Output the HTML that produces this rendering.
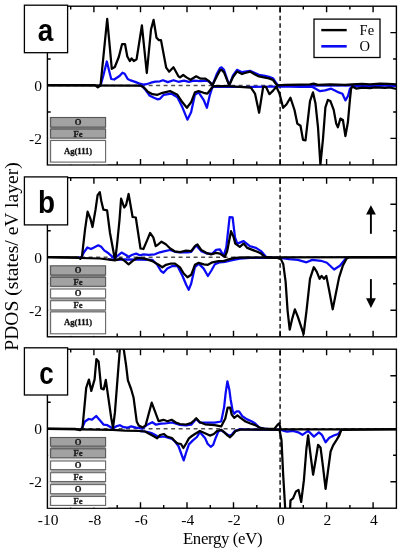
<!DOCTYPE html>
<html><head><meta charset="utf-8"><title>PDOS</title>
<style>
html,body{margin:0;padding:0;background:#fff;width:401px;height:550px;overflow:hidden}
svg{display:block}
.t{font-family:"Liberation Serif",serif;fill:#000}
.lb{font-family:"Liberation Serif",serif;font-weight:bold;fill:#141414;stroke:#141414;stroke-width:0.3;font-size:8.6px}
.pl{font-family:"Liberation Sans","DejaVu Sans",sans-serif;font-weight:bold;fill:#000}
</style></head><body>
<svg width="401" height="550" viewBox="0 0 401 550">
<rect width="401" height="550" fill="#fff"/>

<defs><clipPath id="ca"><rect x="47.4" y="6.2" width="349.0" height="158.70000000000002"/></clipPath></defs>
<g clip-path="url(#ca)">
<line x1="47.4" y1="85.5" x2="396.4" y2="85.5" stroke="#505050" stroke-width="1.5" stroke-dasharray="4,3.5" stroke-dashoffset="3.8"/>
<line x1="280.1" y1="6.2" x2="280.1" y2="164.9" stroke="#000" stroke-width="1.35" stroke-dasharray="4.5,3.1" stroke-dashoffset="5.7"/>
<polyline fill="none" stroke="#0a0af5" stroke-width="2.25" stroke-linejoin="round" points="99.0,85.4 100.6,85.4 103.5,75.0 106.8,61.5 111.2,79.0 114.2,79.5 119.5,76.0 122.5,72.7 124.7,73.7 127.7,79.0 130.7,80.4 134.4,81.6 138.9,83.4 143.4,84.6 146.4,84.2 150.9,82.7 155.4,81.6 160.0,81.3 163.0,80.2 167.8,82.1 173.5,80.2 178.4,81.8 184.0,80.6 188.9,81.8 193.8,80.6 200.2,81.2 206.7,80.6 210.0,82.3 212.4,85.3 217.0,73.5 220.0,68.0 221.5,67.4 224.0,69.8 229.2,85.3 233.0,75.4 237.0,69.8 242.0,72.2 245.0,71.6 250.0,70.8 255.0,73.0 259.0,74.8 265.0,75.8 269.0,76.8 273.0,78.2 276.0,82.8 278.2,85.6 396.3,85.4"/>
<polyline fill="none" stroke="#0a0af5" stroke-width="2.25" stroke-linejoin="round" points="138.0,85.5 141.5,85.6 146.0,90.5 149.4,95.4 153.9,97.7 157.5,99.3 160.0,98.8 163.7,94.8 171.2,93.6 177.4,97.3 182.4,107.3 187.4,119.7 191.1,112.3 194.9,94.8 198.6,92.3 203.6,99.8 206.9,107.8 209.9,94.8 212.3,87.3 214.8,86.6 240.0,87.0 280.0,86.5 300.0,86.9 312.5,86.9 320.0,91.2 325.0,90.4 331.2,88.7 334.9,90.4 338.7,92.4 342.4,93.7 345.4,100.4 347.9,96.2 349.9,88.7 352.4,86.2 357.4,86.0 370.0,86.2 380.0,85.8 384.8,85.0 388.0,86.0 396.4,86.2"/>
<polyline fill="none" stroke="#000" stroke-width="2.25" stroke-linejoin="round" points="47.3,85.2 95.0,85.2 97.8,87.4 100.5,85.5 107.2,18.8 111.8,68.8 114.8,67.0 118.8,57.0 122.1,44.0 125.0,44.0 127.3,56.5 129.8,61.0 131.6,58.5 133.8,61.0 136.6,59.2 141.9,25.3 146.8,73.0 151.0,29.5 153.6,19.9 156.5,37.7 158.9,40.1 161.0,40.1 166.2,67.7 169.1,71.7 173.5,67.2 178.4,76.3 180.0,77.4 183.2,75.0 186.5,77.4 190.5,79.8 196.2,76.3 200.2,78.5 205.1,78.5 208.3,80.6 212.4,85.3 217.0,76.0 220.0,70.5 221.5,69.8 224.0,72.4 229.2,85.3 233.0,77.0 237.0,71.6 242.0,74.0 245.0,73.0 250.0,71.6 255.0,74.4 259.0,76.4 265.0,77.6 269.0,78.4 273.0,80.0 276.0,84.0 277.5,85.4 285.0,84.8 300.0,84.6 310.0,84.4 313.5,83.6 318.0,84.9 330.0,84.3 345.0,84.9 352.0,84.3 362.0,83.8 370.0,84.3 380.0,83.6 388.0,83.9 396.4,84.3"/>
<polyline fill="none" stroke="#000" stroke-width="2.25" stroke-linejoin="round" points="47.3,85.4 140.4,85.6 144.0,87.5 147.9,91.7 152.4,94.2 157.5,94.8 162.5,92.8 170.0,91.1 177.4,94.8 182.4,102.3 186.9,107.8 191.1,102.3 194.9,92.3 198.6,91.1 203.6,92.8 207.4,93.6 211.1,88.6 213.6,86.0 225.0,86.0 240.0,86.8 250.9,87.6 255.0,93.6 259.1,112.7 263.2,86.8 265.9,86.8 269.5,94.2 273.3,90.4 276.3,86.8 279.5,93.6 283.1,107.8 286.4,104.5 290.4,97.7 294.5,110.0 297.3,123.6 300.5,125.8 303.0,139.8 305.5,140.3 310.0,101.1 313.0,92.4 315.5,103.6 318.0,127.3 320.4,164.7 322.9,139.8 325.4,107.4 327.9,99.9 330.4,101.1 333.7,109.9 336.2,123.6 337.9,127.3 340.4,118.6 342.9,119.9 345.4,136.1 347.9,122.3 349.9,99.9 351.1,88.7 352.4,86.5 356.1,88.6 362.3,87.6 370.0,88.2 375.0,87.3 385.0,87.8 390.0,87.5 396.4,89.0"/>
</g>
<rect x="47.4" y="6.2" width="349.0" height="158.7" fill="none" stroke="#000" stroke-width="1.4"/>
<path d="M70.7,164.9v-3.3M70.7,6.2v3.3M93.9,164.9v-6M93.9,6.2v6M117.2,164.9v-3.3M117.2,6.2v3.3M140.5,164.9v-6M140.5,6.2v6M163.7,164.9v-3.3M163.7,6.2v3.3M187.0,164.9v-6M187.0,6.2v6M210.3,164.9v-3.3M210.3,6.2v3.3M233.5,164.9v-6M233.5,6.2v6M256.8,164.9v-3.3M256.8,6.2v3.3M280.1,164.9v-6M280.1,6.2v6M303.3,164.9v-3.3M303.3,6.2v3.3M326.6,164.9v-6M326.6,6.2v6M349.9,164.9v-3.3M349.9,6.2v3.3M373.1,164.9v-6M373.1,6.2v6M47.4,138.4h6M396.4,138.4h-6M47.4,112.0h3.3M396.4,112.0h-3.3M47.4,59.0h3.3M396.4,59.0h-3.3M47.4,32.6h6M396.4,32.6h-6" stroke="#000" stroke-width="1.4" fill="none"/>
<text class="t" x="41.9" y="90.8" font-size="15.5" text-anchor="end">0</text>
<text class="t" x="41.9" y="143.7" font-size="15.5" text-anchor="end">-2</text>
<rect x="24.4" y="5.2" width="43.2" height="47.5" fill="#fff" stroke="#000" stroke-width="1.3"/>
<text class="pl" transform="translate(45.6,40.6) scale(0.9,1)" font-size="31" text-anchor="middle">a</text>
<rect x="48.3" y="115.8" width="59.5" height="48.4" fill="#fff"/>
<rect x="48.4" y="116.4" width="1.3" height="47.2" fill="#d4d4d4"/>
<rect x="50.6" y="127.1" width="55" height="2.0" fill="#8c8c8c"/>
<rect x="50.6" y="138.1" width="55" height="2.4" fill="#e4e4e4"/>
<rect x="50.6" y="117.5" width="55" height="9.6" fill="#a2a2a2" stroke="#555" stroke-width="1.1"/>
<text class="lb" x="78.1" y="125.2" text-anchor="middle">O</text>
<rect x="50.6" y="129.1" width="55" height="9.0" fill="#a2a2a2" stroke="#555" stroke-width="1.1"/>
<text class="lb" x="78.1" y="136.5" text-anchor="middle">Fe</text>
<rect x="50.6" y="140.5" width="55" height="21.6" fill="#fff" stroke="#666" stroke-width="1.1"/>
<text class="lb" x="78.1" y="153.7" text-anchor="middle">Ag(111)</text>
<defs><clipPath id="cb"><rect x="47.4" y="177.7" width="349.0" height="159.10000000000002"/></clipPath></defs>
<g clip-path="url(#cb)">
<line x1="47.4" y1="257.2" x2="396.4" y2="257.2" stroke="#505050" stroke-width="1.5" stroke-dasharray="4,3.5" stroke-dashoffset="3.8"/>
<line x1="280.1" y1="177.7" x2="280.1" y2="336.8" stroke="#000" stroke-width="1.35" stroke-dasharray="4.5,3.1" stroke-dashoffset="5.7"/>
<polyline fill="none" stroke="#0a0af5" stroke-width="2.25" stroke-linejoin="round" points="78.0,257.3 81.5,257.3 83.8,252.5 87.4,247.5 91.0,249.0 94.0,247.5 98.3,245.3 101.2,246.8 104.2,250.4 108.5,253.3 114.3,258.4 117.2,256.1 121.6,252.6 125.5,254.8 128.6,256.8 132.4,254.8 136.1,253.6 139.9,255.3 143.6,254.3 148.6,254.8 154.8,254.3 159.8,252.3 164.8,251.1 170.0,250.0 175.0,251.8 180.0,252.3 187.5,252.3 191.2,251.8 196.2,245.4 201.2,251.1 207.4,253.6 212.4,253.6 216.1,249.9 219.9,249.4 223.6,256.1 226.3,247.4 229.6,217.2 232.6,217.4 235.0,237.4 237.3,243.6 243.6,241.1 249.8,246.1 256.0,247.9 261.0,251.1 266.0,256.8 270.0,257.3 272.0,257.3"/>
<polyline fill="none" stroke="#0a0af5" stroke-width="2.25" stroke-linejoin="round" points="108.0,259.1 114.9,259.8 124.9,259.3 152.3,259.8 157.3,264.8 161.0,271.0 163.5,272.8 167.3,268.5 172.3,266.0 177.5,266.0 180.0,271.0 182.5,276.0 186.2,284.8 188.7,289.8 191.2,283.5 194.9,267.3 198.7,263.6 203.7,268.6 207.9,276.0 211.1,271.0 214.9,264.3 219.9,262.3 224.9,261.8 231.1,260.3 239.8,258.6 249.8,257.8 280.3,257.9 289.1,259.1 297.8,259.9 306.5,262.3 312.3,259.9 321.0,260.8 326.9,262.8 334.1,269.5 339.9,265.8 345.8,258.5 348.0,257.6"/>
<polyline fill="none" stroke="#000" stroke-width="2.25" stroke-linejoin="round" points="47.3,257.1 78.0,257.4 80.3,258.8 82.0,256.1 85.0,229.9 87.6,211.6 90.5,219.0 92.5,227.0 95.5,209.9 97.6,195.2 99.8,192.2 101.3,201.0 103.4,209.7 107.1,210.4 110.0,233.0 114.3,256.2 115.3,259.3 117.2,243.1 119.5,220.0 121.1,198.7 124.2,207.5 126.1,205.0 128.6,194.0 132.6,217.0 135.8,217.5 140.5,248.5 143.4,249.0 147.3,239.9 150.1,233.0 153.3,237.4 155.7,246.1 157.5,245.0 161.5,241.7 165.8,244.3 170.2,248.5 174.6,251.3 180.0,252.2 186.2,250.6 191.2,251.1 194.9,246.1 197.4,244.4 201.2,249.9 206.2,252.8 211.1,254.3 216.1,252.8 219.9,253.6 222.4,255.3 224.9,256.8 227.2,251.1 231.0,231.2 233.4,236.5 235.3,243.6 239.8,246.9 243.6,243.6 247.3,247.9 252.3,249.9 257.3,251.8 261.0,253.6 264.8,256.8 270.0,257.3 396.3,257.1"/>
<polyline fill="none" stroke="#000" stroke-width="2.25" stroke-linejoin="round" points="47.3,257.1 100.0,258.5 114.9,260.3 121.1,258.6 124.9,261.1 128.6,264.3 132.4,261.1 137.4,257.8 144.8,258.6 152.3,261.1 158.6,264.8 162.3,267.3 166.0,264.8 171.0,263.5 175.0,263.6 180.0,267.3 183.7,273.5 187.5,277.3 191.2,274.8 194.9,264.8 198.7,262.8 203.7,264.3 207.9,264.8 212.4,262.3 218.6,261.1 223.6,261.1 228.6,259.3 234.8,257.8 244.8,257.3 277.4,257.9 280.9,259.1 283.3,264.3 285.6,281.7 287.6,310.8 289.7,329.7 292.0,319.5 294.9,309.4 297.8,316.6 300.7,325.3 303.6,334.1 306.5,310.8 310.0,278.8 313.8,267.2 316.7,271.6 319.6,278.8 321.6,275.9 324.0,278.8 326.3,275.9 329.2,290.5 332.7,309.4 335.6,294.8 339.1,277.4 342.8,265.8 346.6,258.5 350.0,257.3 396.3,257.3"/>
</g>
<rect x="47.4" y="177.7" width="349.0" height="159.1" fill="none" stroke="#000" stroke-width="1.4"/>
<path d="M70.7,336.8v-3.3M70.7,177.7v3.3M93.9,336.8v-6M93.9,177.7v6M117.2,336.8v-3.3M117.2,177.7v3.3M140.5,336.8v-6M140.5,177.7v6M163.7,336.8v-3.3M163.7,177.7v3.3M187.0,336.8v-6M187.0,177.7v6M210.3,336.8v-3.3M210.3,177.7v3.3M233.5,336.8v-6M233.5,177.7v6M256.8,336.8v-3.3M256.8,177.7v3.3M280.1,336.8v-6M280.1,177.7v6M303.3,336.8v-3.3M303.3,177.7v3.3M326.6,336.8v-6M326.6,177.7v6M349.9,336.8v-3.3M349.9,177.7v3.3M373.1,336.8v-6M373.1,177.7v6M47.4,310.2h6M396.4,310.2h-6M47.4,283.7h3.3M396.4,283.7h-3.3M47.4,230.7h3.3M396.4,230.7h-3.3M47.4,204.2h6M396.4,204.2h-6" stroke="#000" stroke-width="1.4" fill="none"/>
<text class="t" x="41.9" y="262.5" font-size="15.5" text-anchor="end">0</text>
<text class="t" x="41.9" y="315.5" font-size="15.5" text-anchor="end">-2</text>
<rect x="24.4" y="176.9" width="43.2" height="48" fill="#fff" stroke="#000" stroke-width="1.3"/>
<text class="pl" transform="translate(46.6,212.9) scale(0.9,1)" font-size="31" text-anchor="middle">b</text>
<rect x="48.3" y="264.1" width="59.5" height="71.8" fill="#fff"/>
<rect x="48.4" y="264.7" width="1.3" height="70.6" fill="#d4d4d4"/>
<rect x="50.6" y="275.0" width="55" height="2.3" fill="#8c8c8c"/>
<rect x="50.6" y="286.3" width="55" height="2.7" fill="#e4e4e4"/>
<rect x="50.6" y="298.0" width="55" height="2.7" fill="#a8a8a8"/>
<rect x="50.6" y="309.9" width="55" height="2.0" fill="#a8a8a8"/>
<rect x="50.6" y="265.8" width="55" height="9.2" fill="#a2a2a2" stroke="#555" stroke-width="1.1"/>
<text class="lb" x="78.1" y="273.3" text-anchor="middle">O</text>
<rect x="50.6" y="277.3" width="55" height="9.0" fill="#a2a2a2" stroke="#555" stroke-width="1.1"/>
<text class="lb" x="78.1" y="284.7" text-anchor="middle">Fe</text>
<rect x="50.6" y="289.0" width="55" height="9.0" fill="#fff" stroke="#666" stroke-width="1.1"/>
<text class="lb" x="78.1" y="296.4" text-anchor="middle">O</text>
<rect x="50.6" y="300.7" width="55" height="9.2" fill="#fff" stroke="#666" stroke-width="1.1"/>
<text class="lb" x="78.1" y="308.2" text-anchor="middle">Fe</text>
<rect x="50.6" y="311.9" width="55" height="21.9" fill="#fff" stroke="#666" stroke-width="1.1"/>
<text class="lb" x="78.1" y="325.2" text-anchor="middle">Ag(111)</text>
<defs><clipPath id="cc"><rect x="47.4" y="349.2" width="349.0" height="159.0"/></clipPath></defs>
<g clip-path="url(#cc)">
<line x1="47.4" y1="428.7" x2="396.4" y2="428.7" stroke="#505050" stroke-width="1.5" stroke-dasharray="4,3.5" stroke-dashoffset="3.8"/>
<line x1="280.1" y1="349.2" x2="280.1" y2="508.2" stroke="#000" stroke-width="1.35" stroke-dasharray="4.5,3.1" stroke-dashoffset="5.7"/>
<polyline fill="none" stroke="#0a0af5" stroke-width="2.25" stroke-linejoin="round" points="79.0,429.7 80.0,429.9 81.5,428.9 85.0,421.5 88.7,419.0 92.0,419.7 96.2,416.0 99.9,420.2 103.7,424.7 107.4,425.2 112.4,428.2 116.1,426.4 119.9,425.2 123.6,427.2 127.4,427.7 131.1,426.4 136.1,427.7 142.3,428.7 147.3,424.7 152.3,422.2 156.0,424.7 161.0,423.6 165.0,423.5 172.0,422.5 180.0,425.0 186.0,425.5 191.2,424.7 196.2,419.0 199.9,422.7 205.0,422.7 214.7,422.7 221.2,421.5 224.1,407.3 225.7,392.7 227.4,381.3 229.3,389.4 230.6,399.2 232.6,410.5 234.2,413.8 236.6,411.3 239.0,411.3 242.3,416.2 247.1,419.4 252.0,421.5 255.2,423.5 259.3,427.5 265.0,428.8 268.0,428.8"/>
<polyline fill="none" stroke="#0a0af5" stroke-width="2.25" stroke-linejoin="round" points="140.0,431.1 145.0,431.5 149.0,432.4 152.0,433.3 157.0,436.0 160.0,437.0 164.0,436.5 172.0,439.0 175.0,441.5 178.4,446.0 181.0,453.0 183.7,460.4 186.0,453.0 188.9,444.4 192.9,440.4 196.9,437.0 199.9,432.2 205.0,437.9 207.6,443.7 210.7,446.8 213.2,444.9 215.3,438.9 218.4,431.4 221.2,430.0 225.3,433.2 229.3,435.6 231.7,434.8 235.0,430.8 240.7,429.2 247.3,429.5 280.7,429.8 287.0,431.6 293.2,430.8 298.2,432.3 302.4,434.8 308.1,430.8 313.9,436.6 318.9,432.3 321.9,434.8 325.6,442.3 329.3,437.8 334.3,435.3 338.1,434.1 341.3,429.8 343.0,429.5"/>
<polyline fill="none" stroke="#000" stroke-width="2.25" stroke-linejoin="round" points="47.3,428.7 75.0,428.9 80.0,430.2 82.5,427.7 86.2,387.8 88.9,379.6 91.3,390.9 94.6,379.4 96.4,359.1 98.6,361.6 101.2,388.4 103.7,389.4 105.8,379.9 111.2,417.7 113.0,427.9 114.9,412.7 117.4,380.3 119.8,349.7 121.3,331.4 123.8,349.7 126.1,365.4 127.9,380.3 131.1,389.0 133.6,397.8 136.7,421.4 138.7,425.4 142.8,427.4 145.6,425.4 151.7,402.7 154.5,410.1 158.6,421.2 163.4,419.8 167.5,421.2 171.6,419.8 175.8,422.5 180.0,424.0 186.0,424.5 191.0,423.0 194.0,420.5 196.2,418.3 199.9,422.2 205.0,424.3 214.7,425.1 221.2,426.4 225.3,418.6 227.7,407.6 230.1,407.6 231.7,414.6 234.2,417.8 237.4,415.4 241.5,418.6 245.5,421.5 250.4,423.5 255.2,425.1 259.3,427.5 265.0,428.8 274.5,428.8 277.5,424.9 279.3,423.2 280.7,429.4 396.4,429.3"/>
<polyline fill="none" stroke="#000" stroke-width="2.25" stroke-linejoin="round" points="47.3,428.8 112.4,429.8 125.0,430.6 138.7,431.0 145.0,431.5 152.4,435.6 157.2,438.3 160.0,435.0 164.0,434.0 167.0,436.5 172.0,438.0 175.0,441.4 177.4,443.4 181.0,444.0 183.4,448.0 186.4,443.0 188.9,438.4 191.9,436.0 194.9,434.0 199.9,431.0 205.0,433.2 209.9,435.6 213.9,434.0 217.2,430.8 221.2,430.0 224.4,432.4 227.7,435.6 230.1,437.3 232.6,434.8 235.8,430.8 240.7,429.6 265.0,429.7 279.5,429.8 281.5,440.3 283.2,475.2 285.2,508.7 286.0,520.4 289.5,520.4 290.5,500.4 293.0,498.4 296.0,491.4 298.5,489.9 301.2,501.9 303.9,480.2 306.4,449.0 308.1,435.3 310.6,455.3 313.1,474.7 315.6,460.3 318.1,444.8 320.6,447.8 323.1,467.7 325.6,488.9 328.1,470.2 330.6,451.5 333.1,445.3 336.3,440.3 339.3,435.3 341.3,429.8 396.3,429.2"/>
</g>
<rect x="47.4" y="349.2" width="349.0" height="159.0" fill="none" stroke="#000" stroke-width="1.4"/>
<path d="M70.7,508.2v-3.3M70.7,349.2v3.3M93.9,508.2v-6M93.9,349.2v6M117.2,508.2v-3.3M117.2,349.2v3.3M140.5,508.2v-6M140.5,349.2v6M163.7,508.2v-3.3M163.7,349.2v3.3M187.0,508.2v-6M187.0,349.2v6M210.3,508.2v-3.3M210.3,349.2v3.3M233.5,508.2v-6M233.5,349.2v6M256.8,508.2v-3.3M256.8,349.2v3.3M280.1,508.2v-6M280.1,349.2v6M303.3,508.2v-3.3M303.3,349.2v3.3M326.6,508.2v-6M326.6,349.2v6M349.9,508.2v-3.3M349.9,349.2v3.3M373.1,508.2v-6M373.1,349.2v6M47.4,481.7h6M396.4,481.7h-6M47.4,455.2h3.3M396.4,455.2h-3.3M47.4,402.2h3.3M396.4,402.2h-3.3M47.4,375.7h6M396.4,375.7h-6" stroke="#000" stroke-width="1.4" fill="none"/>
<text class="t" x="41.9" y="434.0" font-size="15.5" text-anchor="end">0</text>
<text class="t" x="41.9" y="487.0" font-size="15.5" text-anchor="end">-2</text>
<rect x="24.4" y="347.8" width="43.2" height="47.2" fill="#fff" stroke="#000" stroke-width="1.3"/>
<text class="pl" transform="translate(46.5,383.8) scale(0.84,1)" font-size="31" text-anchor="middle">c</text>
<rect x="48.3" y="435.8" width="59.5" height="71.7" fill="#fff"/>
<rect x="48.4" y="436.4" width="1.3" height="70.5" fill="#d4d4d4"/>
<rect x="50.6" y="446.1" width="55" height="2.7" fill="#8c8c8c"/>
<rect x="50.6" y="457.8" width="55" height="3.2" fill="#e4e4e4"/>
<rect x="50.6" y="469.6" width="55" height="3.1" fill="#a8a8a8"/>
<rect x="50.6" y="481.5" width="55" height="3.1" fill="#a8a8a8"/>
<rect x="50.6" y="493.7" width="55" height="2.8" fill="#a8a8a8"/>
<rect x="50.6" y="437.5" width="55" height="8.6" fill="#a2a2a2" stroke="#555" stroke-width="1.1"/>
<text class="lb" x="78.1" y="444.7" text-anchor="middle">O</text>
<rect x="50.6" y="448.8" width="55" height="9.0" fill="#a2a2a2" stroke="#555" stroke-width="1.1"/>
<text class="lb" x="78.1" y="456.2" text-anchor="middle">Fe</text>
<rect x="50.6" y="461.0" width="55" height="8.6" fill="#fff" stroke="#666" stroke-width="1.1"/>
<text class="lb" x="78.1" y="468.2" text-anchor="middle">O</text>
<rect x="50.6" y="472.7" width="55" height="8.8" fill="#fff" stroke="#666" stroke-width="1.1"/>
<text class="lb" x="78.1" y="480.0" text-anchor="middle">Fe</text>
<rect x="50.6" y="484.6" width="55" height="9.1" fill="#fff" stroke="#666" stroke-width="1.1"/>
<text class="lb" x="78.1" y="492.0" text-anchor="middle">O</text>
<rect x="50.6" y="496.5" width="55" height="8.9" fill="#fff" stroke="#666" stroke-width="1.1"/>
<text class="lb" x="78.1" y="503.8" text-anchor="middle">Fe</text>
<text class="t" x="48.2" y="524.9" font-size="15.5" text-anchor="middle">-10</text>
<text class="t" x="94.7" y="524.9" font-size="15.5" text-anchor="middle">-8</text>
<text class="t" x="141.3" y="524.9" font-size="15.5" text-anchor="middle">-6</text>
<text class="t" x="187.8" y="524.9" font-size="15.5" text-anchor="middle">-4</text>
<text class="t" x="234.3" y="524.9" font-size="15.5" text-anchor="middle">-2</text>
<text class="t" x="280.9" y="524.9" font-size="15.5" text-anchor="middle">0</text>
<text class="t" x="327.4" y="524.9" font-size="15.5" text-anchor="middle">2</text>
<text class="t" x="373.9" y="524.9" font-size="15.5" text-anchor="middle">4</text>
<text class="t" x="222.6" y="543.8" font-size="16.8" letter-spacing="-0.35" text-anchor="middle">Energy (eV)</text>
<text class="t" transform="translate(18.4,256.5) rotate(-90)" font-size="19.6" text-anchor="middle">PDOS (states/ eV layer)</text>
<rect x="314" y="19.1" width="66" height="38.4" fill="#fff" stroke="#000" stroke-width="1.3"/>
<line x1="321.3" y1="30.1" x2="346.7" y2="30.1" stroke="#000" stroke-width="2.4"/>
<line x1="321.3" y1="46.3" x2="346.7" y2="46.3" stroke="#0a0af5" stroke-width="2.6"/>
<text class="t" x="359.6" y="35" font-size="14.5">Fe</text>
<text class="t" x="359.5" y="51.2" font-size="14.5">O</text>
<path d="M370.9,233.8V213" stroke="#000" stroke-width="1.9"/><path d="M370.9,205.2L375.9,214.6H366.1Z" fill="#000"/>
<path d="M370.9,279.1V299" stroke="#000" stroke-width="1.9"/><path d="M370.9,307.9L375.9,298.3H366.1Z" fill="#000"/>
</svg></body></html>
